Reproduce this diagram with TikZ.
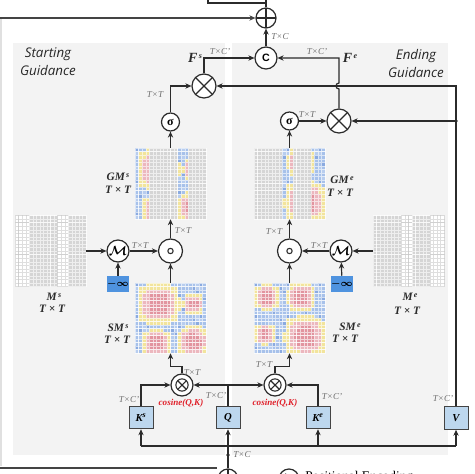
\documentclass[tikz,border=0pt]{standalone}
\usepackage{fontspec}
\usepackage{amsmath}
\setmainfont{Liberation Serif}
\setsansfont{Liberation Sans}
\newfontfamily\guidfont{Open Sans}
\usetikzlibrary{arrows.meta}
\definecolor{linec}{HTML}{2B2B2B}
\definecolor{thickc}{HTML}{444444}
\definecolor{panelc}{HTML}{F3F3F3}
\definecolor{qkvc}{HTML}{BDD7EE}
\definecolor{infc}{HTML}{4F93DF}
\definecolor{dimc}{HTML}{707070}
\definecolor{cosc}{HTML}{E0202A}
\definecolor{hred}{HTML}{E2949F}
\definecolor{hpink}{HTML}{ECB7BE}
\definecolor{hyel}{HTML}{F2E49C}
\definecolor{hblue}{HTML}{A7C1EA}
\definecolor{hbluel}{HTML}{B8CDEE}
\definecolor{hblued}{HTML}{8AAAE0}
\definecolor{mgray}{HTML}{D5D5D5}
\definecolor{mline}{HTML}{C8C8C8}

\newcommand\bl[3]{((0.5*max(abs(\uu-#1),abs(\ww-#2))+0.5*veclen(\uu-#1,\ww-#2))/#3)}
\newcommand\blobS{min(\bl{0.33}{0.3}{0.3},\bl{0.82}{0.3}{0.15},\bl{0.3}{0.86}{0.2},\bl{0.82}{0.83}{0.22})}
\newcommand\blobE{min(\bl{0.18}{0.2}{0.18},\bl{0.66}{0.2}{0.2},\bl{0.15}{0.73}{0.15},\bl{0.72}{0.76}{0.3})}
\newcommand\heatpick{%
  \pgfmathtruncatemacro\nz{mod(\i*7+\j*11+\i*\j*3,9)}%
  \ifdim\myd pt<0.5pt \def\hc{hred}\else
  \ifdim\myd pt<0.75pt \def\hc{hpink}\else
  \ifdim\myd pt<1.0pt \def\hc{hyel}\else
  \ifnum\nz=0 \def\hc{hblued}\else\ifnum\nz<3 \def\hc{hbluel}\else\def\hc{hblue}\fi\fi
  \fi\fi\fi}
\newcommand\drawgrid[7]{%
  \foreach \i in {0,...,19}{%
    \foreach \j in {0,...,19}{%
      \pgfmathsetmacro\uu{(\i+0.5)/20}%
      \pgfmathsetmacro\ww{(\j+0.5)/20}%
      \pgfmathtruncatemacro\isopen{#7}%
      \pgfmathsetmacro\myd{#6}%
      \def\lc{white}%
      \ifcase#5\relax \heatpick
      \or \ifnum\isopen=1 \heatpick\else\def\hc{mgray}\fi
      \or \ifnum\isopen=1 \def\hc{white}\def\lc{mline}\else\def\hc{mgray}\fi
      \fi
      \filldraw[fill=\hc,draw=\lc,draw opacity=0.6,line width=0.18pt] ({#1+\i*#3/20},{#2+\j*#4/20}) rectangle ++({#3/20},{#4/20});
    }}}
\newcommand\spr[1]{\raisebox{0.6ex}{\fontsize{6}{6}\selectfont\,#1}}

\tikzset{
  ln/.style={draw=linec, line width=0.9pt},
  arr/.style={ln, -{Stealth[length=4.5pt,width=4pt]}},
  thk/.style={draw=thickc, line width=1.4pt},
  opc/.style={circle, draw=linec, line width=0.9pt, fill=white, inner sep=0pt},
  otim/.style={opc, minimum size=18pt, path picture={\draw[line width=0.9pt,linec] (path picture bounding box.north west) -- (path picture bounding box.south east) (path picture bounding box.north east) -- (path picture bounding box.south west);}},
  cosn/.style={opc, minimum size=16.5pt, path picture={\draw[line width=0.8pt,linec] (path picture bounding box.center) circle (4.6pt);
     \draw[line width=0.8pt,linec] ([shift={(45:4.6pt)}]path picture bounding box.center) -- ([shift={(225:4.6pt)}]path picture bounding box.center) ([shift={(135:4.6pt)}]path picture bounding box.center) -- ([shift={(-45:4.6pt)}]path picture bounding box.center);}},
  odotn/.style={opc, minimum size=18pt, path picture={\draw[line width=0.8pt,linec] (path picture bounding box.center) circle (2pt);}},
  oplusn/.style={opc, minimum size=15pt, path picture={\draw[line width=0.9pt,linec] (path picture bounding box.north) -- (path picture bounding box.south) (path picture bounding box.west) -- (path picture bounding box.east);}},
  pen/.style={opc, minimum size=15pt, path picture={\draw[line width=0.7pt,linec] ([xshift=-5pt]path picture bounding box.center) .. controls +(2pt,5pt) and +(-2pt,5pt) .. (path picture bounding box.center) .. controls +(2pt,-5pt) and +(-2pt,-5pt) .. ([xshift=5pt]path picture bounding box.center);}},
  sig/.style={opc, minimum size=13.5pt, font=\bfseries\fontsize{9}{9}\selectfont},
  calm/.style={opc, minimum size=16.5pt},
  catn/.style={opc, minimum size=16.5pt, font=\sffamily\bfseries\fontsize{8}{8}\selectfont},
  qkv/.style={draw=thickc, line width=0.7pt, fill=qkvc, minimum width=18pt, minimum height=17pt, inner sep=0pt, font=\bfseries\itshape\fontsize{8}{8}\selectfont},
  ninf/.style={fill=infc, minimum width=12.75pt, minimum height=12pt, inner sep=0pt, font=\fontsize{7}{7}\selectfont},
  gridn/.style={minimum width=53.25pt, minimum height=#1, inner sep=0pt},
  dl/.style={font=\fontsize{6.8}{7}\selectfont\itshape, text=dimc, inner sep=0pt},
  ml/.style={font=\fontsize{8.5}{9}\selectfont\bfseries\itshape, text=linec, inner sep=0pt},
  fl/.style={font=\fontsize{10.5}{11}\selectfont\bfseries\itshape, text=linec, inner sep=0pt},
  gl/.style={font=\guidfont\itshape\fontsize{10}{13.5}\selectfont, align=center, inner sep=0pt, text=black!85},
  cl/.style={font=\fontsize{6.8}{7}\selectfont\bfseries\itshape, text=cosc, inner sep=0pt},
  dotc/.style={fill=linec}
}

\begin{document}
\begin{tikzpicture}[x=0.75pt,y=-0.75pt]
\useasboundingbox (0,0) rectangle (474,474);
% panels
\fill[panelc] (13,43) rectangle (225,455);
\fill[panelc] (232,43) rectangle (448,455);
\fill[black!12] (0,18) rectangle (2,466);

% grids
\drawgrid{135}{148}{71}{71}{1}{\blobS}{(\i<4)||(\i>11 && \i<15)}
\drawgrid{254}{148}{71}{71}{1}{\blobE}{(\i>7 && \i<11)||(\i>15)}
\drawgrid{135}{283}{71}{70}{0}{\blobS}{1}
\drawgrid{254}{283}{71}{70}{0}{\blobE}{1}
\drawgrid{15}{215.5}{71}{71}{2}{0}{(\i<4)||(\i>11 && \i<15)}
\drawgrid{373}{215.5}{71}{71}{2}{0}{(\i>7 && \i<11)||(\i>15)}
\node[gridn=53.25pt] (gms) at (170.5,183.5) {};
\node[gridn=53.25pt] (gme) at (289.5,183.5) {};
\node[gridn=52.5pt] (sms) at (170.5,318) {};
\node[gridn=52.5pt] (sme) at (289.5,318) {};
\node[gridn=53.25pt] (ms) at (50.5,251) {};
\node[gridn=53.25pt] (me) at (408.5,251) {};

% operators
\node[oplusn] (addt) at (266,18) {};
\node[catn] (cat) at (266,58) {C};
\node[otim] (xs) at (204,86) {};
\node[otim] (xe) at (339,121) {};
\node[sig] (ss) at (170.5,122) {σ};
\node[sig] (se) at (289.5,121) {σ};
\node[odotn] (hs) at (170.5,251) {};
\node[odotn] (he) at (289.5,251) {};
\node[calm] (mcs) at (118,251) {$\boldsymbol{\mathcal{M}}$};
\node[calm] (mce) at (341,251) {$\boldsymbol{\mathcal{M}}$};
\node[ninf] (infs) at (118,284) {$\boldsymbol{-\infty}$};
\node[ninf] (infe) at (342,284) {$\boldsymbol{-\infty}$};
\node[cosn] (cs) at (182,385) {};
\node[cosn] (ce) at (275,385) {};
\node[qkv] (ks) at (141,417.5) {K\textsuperscript{s}};
\node[qkv] (q) at (228,417.5) {Q};
\node[qkv] (ke) at (318,417.5) {K\textsuperscript{e}};
\node[qkv] (v) at (456,418) {V};
\node[oplusn] (addb) at (228,479) {};
\node[pen] (pe) at (289,479) {};
\node[draw=linec, line width=0.9pt, minimum width=43.5pt, minimum height=17.25pt, inner sep=0pt] (topbox) at (237,-8.5) {};

% coordinates
\coordinate (lt) at (0,18);
\coordinate (lb) at (0,468);
\coordinate (lbe) at (217,468);
\coordinate (vj) at (456,121);
\coordinate (qj) at (228,385);
\coordinate (ij) at (228,446);
\coordinate (ij2) at (228,455);

% connectors top
\draw[ln] (addt.north) -- (addt.north |- topbox.south);
\draw[thk,-{Stealth[length=4.5pt,width=4pt]}] (lt) -- (addt.west);
\draw[thk] (lb) -- (lbe);
\draw[arr] (cat) -- (addt);
\draw[arr] (xs.north) |- (cat.west);
\draw[arr] (v.north) |- (xs.east);
\draw[arr] (xe.north) -- (339,89) .. controls (335,89) and (335,83) .. (339,83) |- (cat.east);
\fill[dotc] (vj) circle (1.8);
\draw[arr] (vj) -- (xe.east);
\draw[arr] (ss.north) |- (xs.west);
\draw[arr] (se) -- (xe);
% starting column
\draw[arr] (gms.north) -- (ss.south);
\draw[arr] (hs) -- (gms.south);
\draw[arr] (sms.north) -- (hs);
\draw[arr] (mcs) -- (hs);
\draw[arr] (ms.east) -- (mcs.west);
\draw[arr] (infs) -- (mcs);
\draw[arr] (cs.north) -- ++(0,-7) -| (sms.south);
\draw[arr] (ks.north) |- (cs.west);
\draw[ln] (q.north) -- (qj);
\draw[arr] (qj) -- (cs.east);
\draw[arr] (qj) -- (ce.west);
\draw[arr] (ke.north) |- (ce.east);
% ending column
\draw[arr] (ce.north) -- ++(0,-7) -| (sme.south);
\draw[arr] (sme.north) -- (he);
\draw[arr] (he) -- (gme.south);
\draw[arr] (gme.north) -- (se.south);
\draw[arr] (mce) -- (he);
\draw[arr] (me.west) -- (mce.east);
\draw[arr] (infe) -- (mce);
% inputs
\draw[ln] (addb.north) -- (ij);
\draw[arr] (ij) -- (q.south);
\draw[ln] (ks.south |- ij) -- (v.south |- ij);
\draw[arr] (ks.south |- ij) -- (ks.south);
\draw[arr] (ke.south |- ij) -- (ke.south);
\draw[arr] (v.south |- ij) -- (v.south);
\fill[dotc] (ij) circle (1.8);
\fill[dotc] (ij2) circle (1.8);
\draw[arr] (pe) -- (addb);

% labels
\node[gl] (gs) at (48,62) {Starting\\Guidance};
\node[gl] (ge) at (416,64) {Ending\\Guidance};
\node[fl] (fs) at (195,58) {F\spr{s}};
\node[fl] (fe) at (350,58) {F\spr{e}};
\node[ml] (l1) at (118,177) {GM\spr{s}};
\node[ml] (l2) at (118,190) {T × T};
\node[ml] (l3) at (342,180) {GM\spr{e}};
\node[ml] (l4) at (340,193) {T × T};
\node[ml] (l5) at (54,297) {M\spr{s}};
\node[ml] (l6) at (52,309) {T × T};
\node[ml] (l7) at (410,297) {M\spr{e}};
\node[ml] (l8) at (407,311) {T × T};
\node[ml] (l9) at (118,328) {SM\spr{s}};
\node[ml] (l10) at (117,340) {T × T};
\node[ml] (l11) at (350,327) {SM\spr{e}};
\node[ml] (l12) at (345,339) {T × T};
\node[dl] (d1) at (220,52) {T×C'};
\node[dl] (d2) at (317,52) {T×C'};
\node[dl] (d3) at (280,37) {T×C};
\node[dl] (d4) at (155,95) {T×T};
\node[dl] (d5) at (307,115) {T×T};
\node[dl] (d6) at (140,246) {T×T};
\node[dl] (d7) at (319,246) {T×T};
\node[dl] (d8) at (183,231) {T×T};
\node[dl] (d9) at (274,232) {T×T};
\node[dl] (d10) at (192,373) {T×T};
\node[dl] (d11) at (264,365) {T×T};
\node[dl] (d12) at (129,400) {T×C'};
\node[dl] (d13) at (216,396) {T×C'};
\node[dl] (d14) at (332,397) {T×C'};
\node[dl] (d15) at (443,399) {T×C'};
\node[dl] (d16) at (242,455) {T×C};
\node[cl] (c1) at (181,403) {cosine(Q,K)};
\node[cl] (c2) at (275,403) {cosine(Q,K)};
\node[anchor=base west, font=\fontsize{10}{10}\selectfont, inner sep=0pt] (pel) at (305,480) {Positional Encoding};
\end{tikzpicture}
\end{document}
